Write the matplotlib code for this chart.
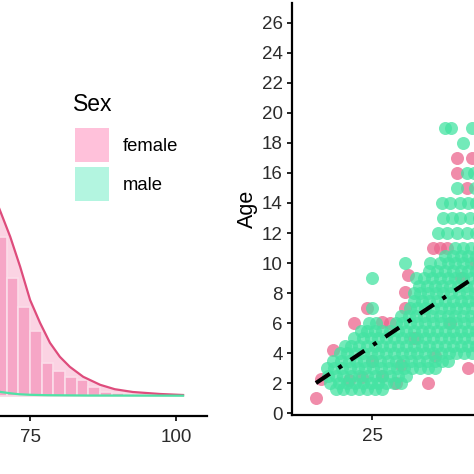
import matplotlib
matplotlib.use('Agg')
import matplotlib.pyplot as plt
from matplotlib.patches import Patch
import numpy as np

plt.rcParams['font.family'] = ['Liberation Sans', 'DejaVu Sans']

# ---- left panel: length distribution (density, %) ----
bar_centers = [70, 72, 74, 76, 78, 80, 82, 84, 86, 88, 90, 92, 94, 96, 98, 100]
bar_heights = [3.98, 2.95, 2.23, 1.63, 0.83, 0.63, 0.48, 0.40, 0.23, 0.10,
               0.07, 0.05, 0.04, 0.03, 0.03, 0.02]

fem_curve_x = [69, 70, 71.6, 73.3, 75, 76.7, 78.4, 80.1, 81.8, 84.1, 87, 89.5,
               92.6, 97.3, 101.2]
fem_curve_y = [4.95, 4.58, 3.98, 3.23, 2.40, 1.83, 1.33, 0.98, 0.73, 0.48,
               0.28, 0.17, 0.10, 0.05, 0.025]
male_curve_x = [69, 70, 71.5, 73, 75, 78, 85, 95, 101.2]
male_curve_y = [0.13, 0.10, 0.07, 0.045, 0.03, 0.02, 0.012, 0.01, 0.008]

# ---- right panel: age vs length ----
male_row_age = [1.6, 2.0, 2.5, 3.0, 3.5, 4.0, 4.5, 5.0, 5.5, 6.0, 6.5, 7.0,
                7.5, 8.0, 8.5, 9.0, 9.5, 10.0, 10.5, 11.0, 12.0, 13.0, 14.0,
                15.0, 16.0, 18.0, 19.0]
male_row_len = [
    [18.0, 19.5, 21.0, 22.5, 24.0, 25.5, 27.0],
    [17.0, 18.7, 20.2, 21.7, 23.2, 24.7, 26.2, 27.7, 29.2, 30.5],
    [16.5, 18.0, 19.5, 21.0, 22.5, 24.0, 25.5, 27.0, 28.5, 30.0, 31.5],
    [16.3, 17.7, 19.2, 20.7, 22.2, 23.7, 25.2, 26.7, 28.2, 29.7, 31.2, 32.7,
     34.2, 35.7, 37.0],
    [17.5, 19.0, 20.5, 22.0, 23.5, 25.0, 26.5, 28.0, 29.5, 31.0, 32.5, 34.0,
     35.5, 37.0, 38.5, 39.5],
    [18.8, 20.2, 21.7, 23.2, 24.7, 26.2, 27.7, 29.2, 30.7, 32.2, 33.7, 35.2,
     36.7, 38.2, 39.7, 41.2, 42.7, 44.2, 45.7],
    [19.8, 21.0, 22.5, 24.0, 25.5, 27.0, 28.5, 30.0, 31.5, 33.0, 34.5, 36.0,
     37.5, 39.0, 40.5, 42.0, 43.5, 45.0, 46.5],
    [21.5, 23.2, 24.7, 26.2, 27.7, 29.2, 30.7, 32.2, 33.7, 35.2, 36.7, 38.2,
     39.7, 41.2, 42.7, 44.2, 45.7],
    [22.8, 24.0, 25.5, 27.0, 28.5, 30.0, 31.5, 33.0, 34.5, 36.0, 37.5, 39.0,
     40.5, 42.0, 43.5, 45.0, 46.5],
    [24.5, 25.8, 29.5, 30.7, 32.2, 33.7, 35.2, 36.7, 38.2, 39.7, 41.2, 42.7,
     44.2, 45.7],
    [30.5, 32.0, 33.5, 35.0, 36.5, 38.0, 39.5, 41.0, 42.5, 44.0, 45.5],
    [25.0, 32.3, 33.7, 35.2, 36.7, 38.2, 39.7, 41.2, 42.7, 44.2, 45.7],
    [33.0, 34.5, 36.0, 37.5, 39.0, 40.5, 42.0, 43.5, 45.0, 46.5],
    [33.0, 34.2, 35.7, 37.2, 38.7, 40.2, 41.7, 43.2, 44.7, 46.2],
    [34.0, 35.5, 37.0, 38.5, 40.0, 41.5, 43.0, 44.5, 46.0],
    [25.0, 33.5, 35.0, 36.5, 38.0, 39.5, 41.0, 42.5, 44.0, 45.5],
    [36.0, 37.5, 39.0, 40.5, 42.0, 43.5, 45.0, 46.5],
    [31.3, 36.2, 38.0, 39.5, 41.0, 42.5, 44.0, 45.5],
    [39.0, 40.5, 42.0, 43.5, 45.0, 46.5],
    [41.0, 42.5, 44.0, 45.5],
    [37.7, 39.4, 41.3, 43.3, 45.0],
    [38.7, 40.4, 41.9, 43.8, 45.5],
    [38.5, 40.0, 41.9, 43.5, 45.0],
    [41.3, 44.8],
    [43.3, 44.5],
    [42.5],
    [39.0, 40.2, 44.2],
]

fem_len = [14.2, 15.2, 17.5, 21.5, 24.0, 27.0, 28.5, 29.6, 35.8, 31.3, 31.3,
           31.9, 36.7, 38.1, 39.4, 43.5, 43.3, 41.3, 41.3, 44.2,
           20.5, 23.0, 27.0, 30.5, 33.0, 37.0, 25.0, 40.0, 42.0, 45.0]
fem_age = [1.0, 2.3, 4.2, 6.0, 7.0, 6.1, 6.0, 2.0, 2.0, 7.0, 8.1,
           9.2, 11.0, 11.0, 11.0, 3.0, 15.0, 16.0, 17.0, 17.0,
           2.2, 2.4, 2.5, 3.2, 5.0, 3.8, 3.5, 6.0, 9.0, 10.0]

fit_slope = 0.231
fit_intercept = -1.28
fit_len = np.array([14.2, 101.0])

male_len = np.concatenate(male_row_len)
male_age = np.concatenate([[a] * len(r) for a, r in zip(male_row_age, male_row_len)])

pink = '#EB668E'
green = '#44E3A2'
tick_col = '#2b2b2b'

fig = plt.figure(figsize=(4.74, 4.74), dpi=100)

# left panel (mostly cut off at the figure edge)
ax1 = fig.add_axes([(207 - 498) / 474, 58 / 474, 498 / 474, 413 / 474])
ax1.fill_between(fem_curve_x, fem_curve_y, color='#FBD3E3', lw=0, zorder=1)
ax1.fill_between(male_curve_x, male_curve_y, color='#BDF5E2', lw=0, zorder=1)
ax1.bar(bar_centers, bar_heights, width=2, color='#F6A6C6',
        edgecolor='#FBDDE9', linewidth=1.2, zorder=2)
ax1.plot(fem_curve_x, fem_curve_y, color='#DE4C7C', lw=1.6, zorder=3)
ax1.plot(male_curve_x, male_curve_y, color='#4FE3A6', lw=1.6, zorder=3)
ax1.set_xlim(20, 105.3)
ax1.set_ylim(-0.5, 9.825)
ax1.set_xticks([75, 100])
ax1.set_yticks([])

# right panel
ax2 = fig.add_axes([292 / 474, 59 / 474, 498 / 474, 412 / 474])
ax2.scatter(fem_len, fem_age, s=88, color=pink, alpha=0.75, lw=0, zorder=2)
ax2.scatter(male_len, male_age, s=88, color=green, alpha=0.75, lw=0, zorder=3)
ax2.plot(fit_len, fit_intercept + fit_slope * fit_len, color='black', lw=3,
         dashes=(4, 2.5, 1, 2.5), dash_capstyle='butt', zorder=4)
ax2.set_xlim(9.6, 105.35)
ax2.set_ylim(-0.13, 27.33)
ax2.set_xticks([25])
ax2.set_yticks(np.arange(0, 27, 2))
ax2.set_ylabel('Age', fontsize=15.5, labelpad=3)

for ax in (ax1, ax2):
    for s in ('top', 'right'):
        ax.spines[s].set_visible(False)
    for s in ('left', 'bottom'):
        ax.spines[s].set_linewidth(1.6)
    ax.tick_params(length=3.6, width=1.2, pad=3, labelsize=13.5,
                   labelcolor=tick_col, color='black')
    ax.tick_params(axis='x', pad=6)
ax1.spines['left'].set_visible(False)

fig.text(73 / 474, 1 - 111 / 474, 'Sex', fontsize=16.5, va='baseline', ha='left')
handles = [Patch(facecolor='#FFC1DA', edgecolor='none', label='female'),
           Patch(facecolor='#B3F5E0', edgecolor='none', label='male')]
fig.legend(handles=handles, loc='upper left',
           bbox_to_anchor=(75 / 474, 1 - 128 / 474), frameon=False,
           fontsize=13.3, handlelength=1.84, handleheight=2.46,
           handletextpad=0.76, labelspacing=0.27, borderpad=0, borderaxespad=0)

fig.savefig('out.png', dpi=100)
